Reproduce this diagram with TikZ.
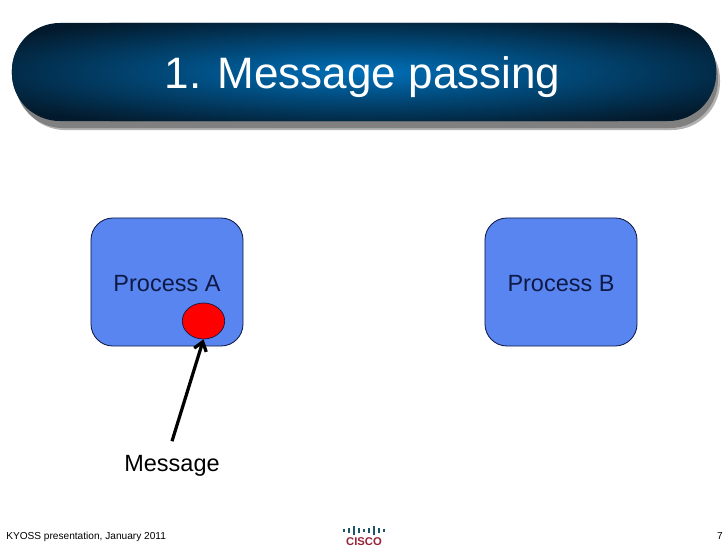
\documentclass[tikz,border=0pt]{standalone}
\usepackage{fontspec}
\setmainfont{Liberation Sans}
\usepackage{xcolor}
\usetikzlibrary{arrows.meta, positioning, shapes.geometric}

\definecolor{barDark}{RGB}{3,26,44}
\definecolor{barBlue}{RGB}{0,112,185}
\definecolor{procBlue}{RGB}{88,133,240}
\definecolor{procEdge}{RGB}{15,25,70}
\definecolor{logoTeal}{RGB}{30,85,105}
\definecolor{logoRed}{RGB}{150,35,55}

\tikzset{
    process/.style={draw=procEdge, fill=procBlue, line width=0.6pt, rounded corners=0.55cm,
        minimum width=3.8cm, minimum height=3.2cm},
    caption/.style={font=\fontsize{16.7}{20}\selectfont, inner sep=0pt},
    smalltext/.style={font=\fontsize{7.2}{9}\selectfont, inner sep=0pt, anchor=base west}
}

\begin{document}
\begin{tikzpicture}[x=0.025cm, y=-0.025cm]
    \useasboundingbox (0,0) rectangle (728,546);

    % Title bar
    \fill[black!30, rounded corners=1.2cm] (17,32) rectangle (720,130);
    \fill[black!50, rounded corners=1.2cm] (15,30) rectangle (718,128);
    \node[rounded corners=1.2cm, minimum width=17.6cm, minimum height=2.45cm, fill=barDark,
        path picture={
            \shade[inner color=barBlue, outer color=barDark]
                (path picture bounding box.center) ellipse (440 and 60);
        }] (titlebar) at (364,72) {};
    \node[text=white, inner sep=0pt, anchor=base, font=\fontsize{31.3}{36}\selectfont]
        (titletext) at (362.5,88) {1. Message passing};

    % Processes
    \node[process] (procA) at (167,282) {};
    \node[process] (procB) at (561,282) {};
    \node[caption, text=procEdge] (labelA) at (167,284) {Process A};
    \node[caption, text=procEdge] (labelB) at (561,284) {Process B};

    % Message
    \node[ellipse, draw=procEdge, fill=red, line width=0.5pt, inner sep=0pt,
        minimum width=1.06cm, minimum height=0.9cm] (msg) at (203.5,321) {};
    \node[caption, anchor=base, text depth=0pt, text height=21pt] (msglabel) at (172,471) {Message};
    \draw[-{Straight Barb[length=6pt, width=9pt]}, line width=2.3pt] (msglabel.north) -- (msg.south);

    % Footer
    \node[smalltext] (footer) at (6,539) {KYOSS presentation, January 2011};
    \node[smalltext, anchor=base east] (pagenum) at (723,539) {7};

    % Logo
    \foreach \x/\h in {344/1.5,349/2.5,354/4.5,359/2.5,364/1.5,369/2.5,374/4.5,379/2.5,384/1.5} {
        \draw[logoTeal, line width=1.3pt] (\x,530-\h) -- (\x,530+\h);
    }
    \node[inner sep=0pt, text=logoRed, anchor=base, font=\fontsize{8}{9}\selectfont\bfseries]
        (logotext) at (364,545) {CISCO};
\end{tikzpicture}
\end{document}
